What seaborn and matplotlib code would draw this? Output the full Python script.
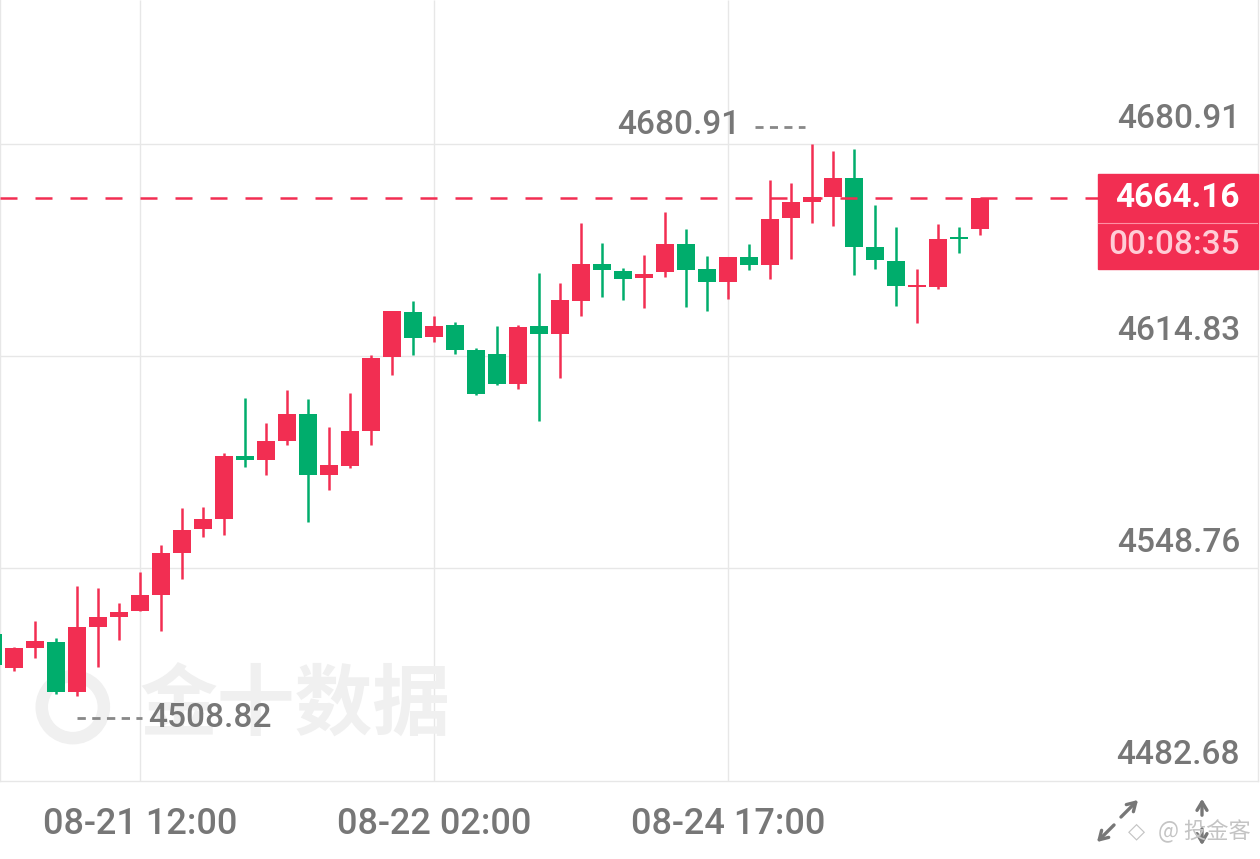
import numpy as np
import matplotlib
matplotlib.use("Agg")
import matplotlib.pyplot as plt
from matplotlib.patches import Rectangle
import seaborn as sns

# ---- 小时K线数据 ----
x_pos = list(range(-1, 47))
opens = [4528.19, 4517.68, 4523.73, 4525.60, 4510.20, 4530.28, 4533.39, 4535.45,
         4540.34, 4553.34, 4560.82, 4564.13, 4583.67, 4582.42, 4588.34, 4596.85,
         4577.74, 4580.55, 4591.55, 4614.43, 4628.64, 4620.66, 4624.40, 4616.70,
         4615.46, 4606.01, 4624.09, 4621.69, 4632.07, 4643.51, 4641.33, 4639.05,
         4640.92, 4649.74, 4642.04, 4637.81, 4645.69, 4643.20, 4657.75, 4662.83,
         4664.48, 4670.22, 4648.90, 4644.54, 4636.49, 4636.34, 4651.60, 4654.51]
highs = [4528.80, 4524.04, 4532.33, 4527.03, 4543.24, 4542.62, 4537.85, 4547.51,
         4555.93, 4567.37, 4567.68, 4584.70, 4601.65, 4593.95, 4604.24, 4601.34,
         4592.61, 4603.40, 4615.15, 4628.95, 4631.98, 4627.39, 4625.34, 4617.33,
         4624.28, 4624.40, 4640.61, 4637.49, 4656.38, 4649.96, 4642.36, 4646.31,
         4659.72, 4654.32, 4646.00, 4645.78, 4649.84, 4669.78, 4668.66, 4680.91,
         4678.63, 4679.44, 4661.99, 4654.95, 4642.04, 4655.88, 4655.04, 4664.16]
lows = [4517.90, 4516.75, 4520.61, 4509.49, 4508.82, 4518.00, 4526.41, 4535.26,
        4529.22, 4545.24, 4558.33, 4558.95, 4580.14, 4577.74, 4587.00, 4563.19,
        4573.07, 4579.83, 4587.09, 4608.91, 4615.15, 4619.29, 4615.36, 4602.68,
        4605.80, 4604.55, 4594.67, 4607.88, 4627.39, 4633.32, 4632.29, 4629.70,
        4639.36, 4630.01, 4628.76, 4632.69, 4641.54, 4638.93, 4645.16, 4656.19,
        4655.35, 4639.99, 4642.04, 4630.42, 4625.03, 4635.81, 4647.03, 4652.45]
closes = [4518.53, 4523.73, 4526.01, 4510.20, 4530.37, 4533.39, 4535.14, 4540.25,
          4553.34, 4560.60, 4563.94, 4583.57, 4582.42, 4588.25, 4596.85, 4577.74,
          4580.77, 4591.37, 4614.30, 4628.77, 4620.44, 4624.18, 4616.70, 4602.99,
          4606.01, 4623.87, 4621.69, 4632.19, 4643.51, 4641.54, 4638.83, 4640.48,
          4649.84, 4641.54, 4637.90, 4645.69, 4643.20, 4657.63, 4662.74, 4664.48,
          4670.22, 4648.90, 4644.75, 4636.65, 4636.65, 4651.30, 4651.45, 4664.16]

grid_levels = [4482.68, 4548.76, 4614.83, 4680.91]
tick_pos = [6, 20, 34]
tick_labels = ["08-21 12:00", "08-22 02:00", "08-24 17:00"]
last_price = 4664.16
countdown = "00:08:35"

RED = "#F22E52"
GREEN = "#00AD6C"
GRAY = "#777777"
GRID = "#e7e7e7"

sns.set_theme(style="white")
plt.rcParams["font.family"] = ["Roboto", "Noto Sans CJK SC", "DejaVu Sans"]

fig = plt.figure(figsize=(12.6, 8.59), dpi=100)
ax = fig.add_axes([0.0, 1 - 781 / 859, 1258 / 1260, 781 / 859])
ax.set_xlim(-14 / 21, (1258 - 14) / 21)
ax.set_ylim(4482.37, 4725.79)

# 网格
for lv in grid_levels[1:]:
    ax.axhline(lv, color=GRID, lw=1, zorder=0)
ax.vlines(tick_pos, 4482.37, 4725.79, color=GRID, lw=1, zorder=0)

# 水印
ax.text(13.4, 4505.4, "金十数据", fontsize=56, fontweight="bold", color="#f0f0f0",
        family=["Noto Sans CJK SC"], ha="center", va="center", zorder=0)
ax.scatter([2.8], [4505.4], s=2000, facecolors="none", edgecolors="#f0f0f0",
           linewidths=9, zorder=0)

# K线
for x, o, h, l, c in zip(x_pos, opens, highs, lows, closes):
    col = RED if c >= o else GREEN
    ax.vlines(x, l, h, color=col, lw=1.8, zorder=3)
    ax.bar(x, max(abs(c - o), 0.35), bottom=min(o, c), width=0.82,
           color=col, linewidth=0, zorder=3)

# 最高 / 最低标注
i_hi = x_pos[int(np.argmax(highs))]
i_lo = x_pos[int(np.argmin(lows))]
hi, lo = max(highs), min(lows)
ax.plot([i_hi - 2.71, i_hi - 0.33], [hi + 5.3, hi + 5.3], color="#888888", lw=2,
        dashes=(2.9, 2.3), zorder=4)
ax.text(i_hi - 3.43, hi + 5.9, f"{hi:.2f}", ha="right", va="center",
        fontsize=24, fontweight="medium", color=GRAY, zorder=4)
ax.plot([i_lo, i_lo + 3.1], [lo - 6.8, lo - 6.8], color="#888888", lw=2,
        dashes=(3.0, 2.3), zorder=4)
ax.text(i_lo + 3.38, lo - 6.8, f"{lo:.2f}", ha="left", va="center",
        fontsize=24, fontweight="medium", color=GRAY, zorder=4)

# 当前价虚线与标签
box_x0 = 1098 / 1258
ax.axhline(last_price, xmin=0, xmax=box_x0, color=RED, lw=1.8,
           dashes=(6.8, 7.2), zorder=5)
ytr = ax.get_yaxis_transform()
ax.add_patch(Rectangle((box_x0, last_price - 22.21), 1 - box_x0, 29.61,
                       transform=ytr, color=RED, zorder=6, clip_on=False))
ax.plot([box_x0, 1.0], [last_price - 7.87] * 2, transform=ytr, color="#ff8fa3",
        lw=0.8, zorder=7)
ax.text(1240 / 1258, last_price, f"{last_price:.2f}", transform=ytr, ha="right",
        va="center", fontsize=24, fontweight="bold", color="white", zorder=8)
ax.text(1240 / 1258, last_price - 14.73, countdown, transform=ytr, ha="right",
        va="center", fontsize=24, fontweight="medium", color="#ffccd6", zorder=8)

# 右侧价格刻度
for lv in grid_levels:
    ax.text(1240 / 1258, lv + 7.8, f"{lv:.2f}", transform=ytr, ha="right",
            va="center", fontsize=24, fontweight="medium", color=GRAY, zorder=4)

# 坐标轴
ax.set_xticks(tick_pos, tick_labels)
ax.set_yticks([])
ax.tick_params(axis="x", length=0, pad=19, labelsize=26, labelcolor=GRAY)
for lab in ax.get_xticklabels():
    lab.set_fontweight("medium")
for side in ["left", "right", "bottom"]:
    ax.spines[side].set_visible(True)
    ax.spines[side].set_color(GRID)
    ax.spines[side].set_linewidth(1)
ax.spines["top"].set_visible(False)

# 右下角图标
arrow_kw = dict(arrowstyle="->, head_length=0.5, head_width=0.3", lw=2.4, color="#777777")
ax.annotate("", xy=(1140, 859 - 798), xytext=(1119, 859 - 819),
            xycoords="figure pixels", textcoords="figure pixels", arrowprops=arrow_kw)
ax.annotate("", xy=(1095, 859 - 844), xytext=(1116, 859 - 823),
            xycoords="figure pixels", textcoords="figure pixels", arrowprops=arrow_kw)
ax.annotate("", xy=(1202, 859 - 796), xytext=(1202, 859 - 818),
            xycoords="figure pixels", textcoords="figure pixels", arrowprops=arrow_kw)
ax.annotate("", xy=(1202, 859 - 848), xytext=(1202, 859 - 826),
            xycoords="figure pixels", textcoords="figure pixels", arrowprops=arrow_kw)
fig.text(1158 / 1260, 1 - 831 / 859, "@ 投金客", fontsize=16, color="#c4c4c4",
         family=["Noto Sans CJK SC", "DejaVu Sans"], ha="left", va="center")
fig.text(1136 / 1260, 1 - 831 / 859, "◇", fontsize=16, color="#c4c4c4",
         family=["DejaVu Sans"], ha="center", va="center")

fig.savefig("out.png", dpi=100)
